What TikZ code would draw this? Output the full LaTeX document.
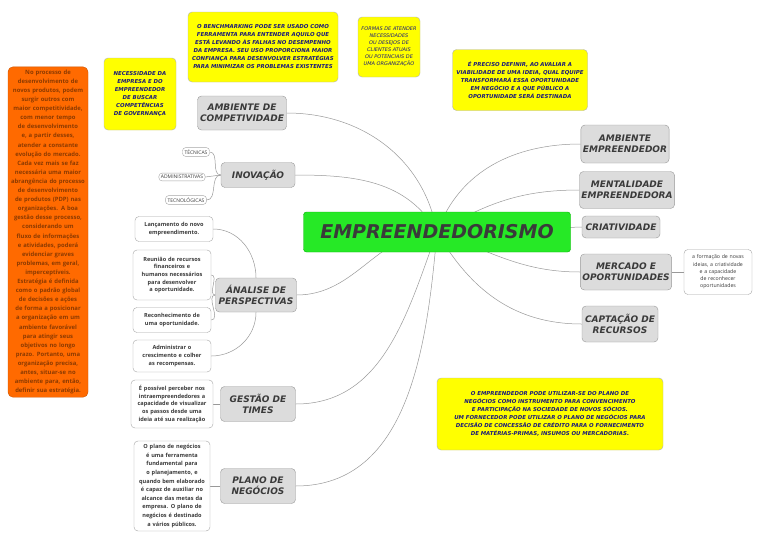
\documentclass[tikz,border=0pt]{standalone}
\usepackage{fontspec}
\setmainfont{Open Sans}
\newfontfamily\hand{DejaVu Sans}
\usetikzlibrary{backgrounds}
\definecolor{note}{HTML}{FFFF00}
\definecolor{orng}{HTML}{FF6A00}
\definecolor{brgray}{HTML}{DCDCDC}
\definecolor{txt}{HTML}{3A3A3A}
\definecolor{ntxt}{HTML}{1A1A7A}
\hyphenpenalty=10000
\exhyphenpenalty=10000
\begin{document}
\begin{tikzpicture}[x=1pt,y=-1pt,
  branch/.style={draw=gray!80,fill=brgray,rounded corners=4pt,align=center,font=\hand\bfseries\itshape\fontsize{9}{11}\selectfont,text=txt,inner sep=2pt},
  leaf/.style={draw=gray!70,fill=white,rounded corners=4pt,align=center,font=\bfseries\fontsize{5.6}{7.6}\selectfont,text=txt,inner sep=2pt},
  tag/.style={draw=gray!70,fill=white,rounded corners=3pt,font=\fontsize{5}{6}\selectfont,text=txt,inner sep=2pt},
  yel/.style={draw=gray!60,fill=note,rounded corners=4pt,align=center,font=\hand\bfseries\itshape\fontsize{5.4}{8}\selectfont,text=ntxt,inner sep=2pt},
  conn/.style={draw=gray!80,line width=0.5pt}]
\useasboundingbox (0,0) rectangle (768,544);
\begin{scope}[on background layer]
\fill[white] (0,0) rectangle (768,544);
\end{scope}
% central
\node[fill=green!90!black!85,draw=green!70!black,rounded corners=3pt,minimum width=267pt,minimum height=40pt,font=\hand\bfseries\itshape\fontsize{19}{22}\selectfont,text=txt] (c) at (437,232) {EMPREENDEDORISMO};
% notes
\node[fill=orng,draw=orng!80!black,rounded corners=5pt,text width=74pt,minimum height=315pt,align=center,font=\bfseries\fontsize{5.9}{9.1}\selectfont,text=orng!55!black,inner sep=3pt] (o) at (48,232) {No processo de desenvolvimento de novos produtos, podem surgir outros com maior competitividade, com menor tempo de desenvolvimento e, a partir desses, atender a constante evolução do mercado. Cada vez mais se faz necessária uma maior abrangência do processo de desenvolvimento de produtos (PDP) nas organizações. A boa gestão desse processo, considerando um fluxo de informações e atividades, poderá evidenciar graves problemas, em geral, imperceptíveis. Estratégia é definida como o padrão global de decisões e ações de forma a posicionar a organização em um ambiente favorável para atingir seus objetivos no longo prazo. Portanto, uma organização precisa, antes, situar-se no ambiente para, então, definir sua estratégia.};
\node[yel,text width=68pt,minimum height=72pt] (y1) at (140,94) {NECESSIDADE DA EMPRESA E DO EMPREENDEDOR DE BUSCAR COMPETÊNCIAS DE GOVERNANÇA};
\node[yel,text width=146pt,minimum height=70pt] (y2) at (263,47) {O BENCHMARKING PODE SER USADO COMO FERRAMENTA PARA ENTENDER AQUILO QUE ESTÁ LEVANDO ÀS FALHAS NO DESEMPENHO DA EMPRESA. SEU USO PROPORCIONA MAIOR CONFIANÇA PARA DESENVOLVER ESTRATÉGIAS PARA MINIMIZAR OS PROBLEMAS EXISTENTES};
\node[yel,text width=58pt,minimum height=60pt,font=\hand\itshape\fontsize{5}{7}\selectfont] (y3) at (389,47) {FORMAS DE ATENDER NECESSIDADES OU DESEJOS DE CLIENTES ATUAIS OU POTENCIAIS DE UMA ORGANIZAÇÃO};
\node[yel,text width=131pt,minimum height=61pt] (y4) at (520,80) {É PRECISO DEFINIR, AO AVALIAR A VIABILIDADE DE UMA IDEIA, QUAL EQUIPE TRANSFORMARÁ ESSA OPORTUNIDADE EM NEGÓCIO E A QUE PÚBLICO A OPORTUNIDADE SERÁ DESTINADA};
\node[yel,text width=222pt,minimum height=72pt] (y5) at (550,414) {O EMPREENDEDOR PODE UTILIZAR-SE DO PLANO DE NEGÓCIOS COMO INSTRUMENTO PARA CONVENCIMENTO E PARTICIPAÇÃO NA SOCIEDADE DE NOVOS SÓCIOS.\\ UM FORNECEDOR PODE UTILIZAR O PLANO DE NEGÓCIOS PARA DECISÃO DE CONCESSÃO DE CRÉDITO PARA O FORNECIMENTO DE MATÉRIAS-PRIMAS, INSUMOS OU MERCADORIAS.};
% left branches
\node[branch,minimum width=89pt,minimum height=34pt] (amb) at (242,113) {AMBIENTE DE\\COMPETIVIDADE};
\node[branch,minimum width=74pt,minimum height=25pt] (ino) at (258,175) {INOVAÇÃO};
\node[tag] (t1) at (196,152) {TÉCNICAS};
\node[tag] (t2) at (182,177) {ADMINISTRATIVAS};
\node[tag] (t3) at (186,200) {TECNOLÓGICAS};
\node[branch,minimum width=81pt,minimum height=34pt] (ana) at (256,295) {ÁNALISE DE\\PERSPECTIVAS};
\node[leaf,text width=74pt,minimum height=25pt] (l1) at (174,229) {Lançamento do novo empreendimento.};
\node[leaf,text width=74pt,minimum height=50pt] (l2) at (172,275) {Reunião de recursos financeiros e humanos necessários para desenvolver a oportunidade.};
\node[leaf,text width=74pt,minimum height=25pt] (l3) at (172,320) {Reconhecimento de uma oportunidade.};
\node[leaf,text width=74pt,minimum height=32pt] (l4) at (172,356) {Administrar o crescimento e colher as recompensas.};
\node[branch,minimum width=75pt,minimum height=35pt] (ges) at (258,404) {GESTÃO DE\\TIMES};
\node[leaf,text width=78pt,minimum height=48pt] (l5) at (172,404) {É possível perceber nos intraempreendedores a capacidade de visualizar os passos desde uma ideia até sua realização};
\node[leaf,text width=72pt,minimum height=90pt,font=\bfseries\fontsize{5.6}{8.6}\selectfont] (l6) at (172,486) {O plano de negócios é uma ferramenta fundamental para o planejamento, e quando bem elaborado é capaz de auxiliar no alcance das metas da empresa. O plano de negócios é destinado a vários públicos.};
\node[branch,minimum width=75pt,minimum height=35pt] (pla) at (258,486) {PLANO DE\\NEGÓCIOS};
% right branches
\node[branch,minimum width=86pt,minimum height=38pt] (r1) at (625,144) {AMBIENTE\\EMPREENDEDOR};
\node[branch,minimum width=91pt,minimum height=37pt] (r2) at (627,190) {MENTALIDADE\\EMPREENDEDORA};
\node[branch,minimum width=78pt,minimum height=22pt] (r3) at (621,227) {CRIATIVIDADE};
\node[branch,minimum width=88pt,minimum height=36pt] (r4) at (626,272) {MERCADO E\\OPORTUNIDADES};
\node[leaf,text width=64pt,minimum height=45pt,font=\fontsize{5.2}{7.2}\selectfont] (l7) at (718,272) {a formação de novas ideias, a criatividade e a capacidade de reconhecer oportunidades};
\node[branch,minimum width=76pt,minimum height=36pt] (r5) at (620,324) {CAPTAÇÃO DE\\RECURSOS};
\coordinate (cc) at (437,232);
\begin{scope}[on background layer]
\draw[conn] (cc) to[out=100,in=0] (amb.east);
\draw[conn] (cc) to[out=120,in=0] (ino.east);
\draw[conn] (cc) to[out=180,in=0] (ana.east);
\draw[conn] (cc) to[out=250,in=0] (ges.east);
\draw[conn] (cc) to[out=265,in=0] (pla.east);
\draw[conn] (cc) to[out=70,in=180] (r1.west);
\draw[conn] (cc) to[out=30,in=180] (r2.west);
\draw[conn] (cc) -- (r3.west);
\draw[conn] (cc) to[out=-20,in=180] (r4.west);
\draw[conn] (cc) to[out=-60,in=180] (r5.west);
\draw[conn] (ino.west) to[out=180,in=0] (t1.east);
\draw[conn] (ino.west) -- (t2.east);
\draw[conn] (ino.west) to[out=180,in=0] (t3.east);
\draw[conn] (ana.north) to[out=90,in=0] (l1.east);
\draw[conn] (ana.west) to[out=180,in=0] (l2.east);
\draw[conn] (ana.west) to[out=180,in=0] (l3.east);
\draw[conn] (ana.south) to[out=270,in=0] (l4.east);
\draw[conn] (ges.west) -- (l5.east);
\draw[conn] (pla.west) -- (l6.east);
\draw[conn] (r4.east) -- (l7.west);
\end{scope}
\end{tikzpicture}
\end{document}
